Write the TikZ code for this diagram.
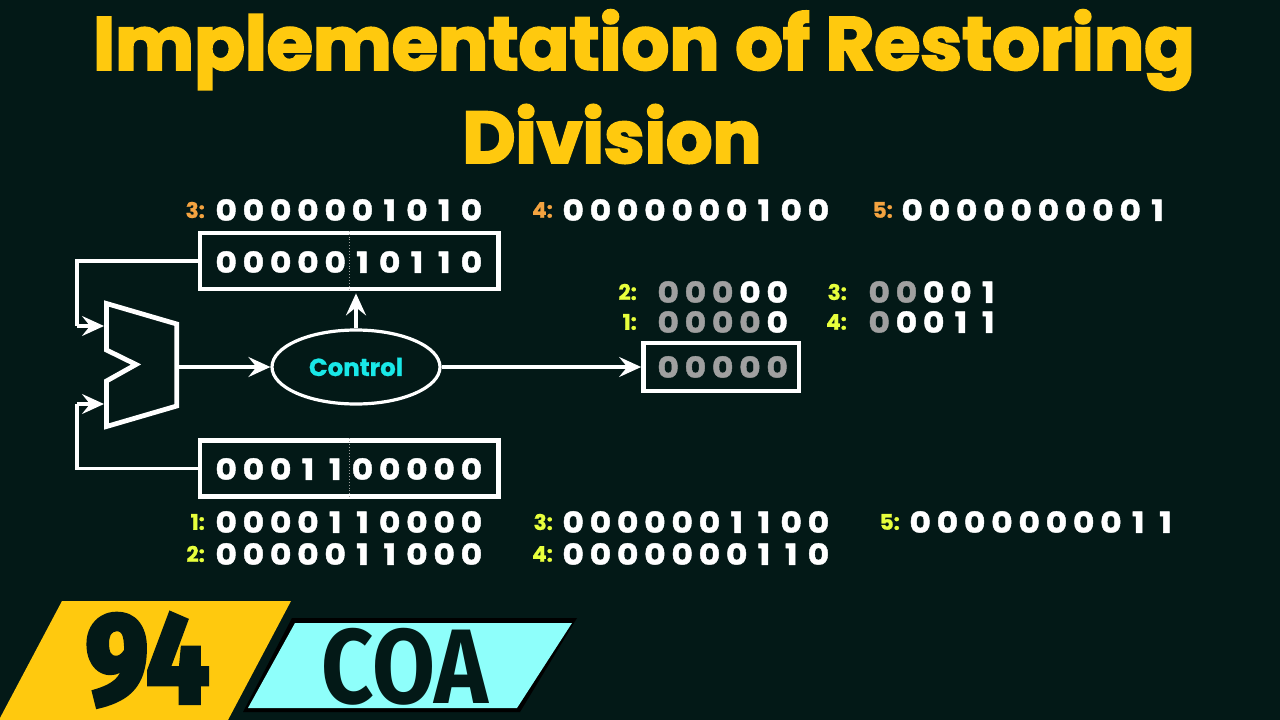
\documentclass[tikz,border=0pt]{standalone}
\usepackage{fontspec}
\setmainfont{Poppins}
\newfontfamily\titlefont[BoldFeatures={RawFeature={embolden=3}}]{Poppins}
\newfontfamily\digitfont[BoldFeatures={RawFeature={embolden=1.5},FakeStretch=1.14}]{Poppins}
\newfontfamily\labelfont[BoldFeatures={RawFeature={embolden=1}}]{Poppins}
\newfontfamily\numfont[BoldFeatures={RawFeature={embolden=4},FakeStretch=0.86}]{Fira Sans}
\newfontfamily\coafont[BoldFeatures={FakeStretch=0.86}]{Fira Sans}
\usetikzlibrary{arrows.meta,calc,shapes.geometric}
\definecolor{bgc}{RGB}{3,25,23}
\definecolor{gold}{RGB}{255,201,14}
\definecolor{aqua}{RGB}{142,255,251}
\definecolor{ctrl}{RGB}{25,232,232}
\definecolor{greybit}{RGB}{160,160,160}
\definecolor{orangel}{RGB}{244,163,64}
\definecolor{limel}{RGB}{232,255,60}
\newlength{\dw}\setlength{\dw}{27.25pt}
\def\bitsloop#1{\ifx#1\relax\else\makebox[\dw]{#1}\expandafter\bitsloop\fi}
\newcommand{\bits}[1]{\bitsloop#1\relax}
\newcommand{\gbits}[1]{{\color{greybit}\bitsloop#1\relax}}
\tikzset{
  x=1pt,y=-1pt,
  wire/.style={draw=white,line width=3.1pt,line join=miter},
  arrowed/.style={wire,-{Stealth[length=22pt,width=20pt,inset=8pt]}},
  reg/.style={draw=white,line width=4.6pt,fill=bgc,rectangle,inner sep=0pt},
  row/.style={anchor=west,inner sep=0pt,text=white,font=\digitfont\bfseries\fontsize{29}{29}\selectfont},
  lab/.style={anchor=east,inner sep=0pt,font=\labelfont\bfseries\fontsize{21.5}{22}\selectfont},
  ttl/.style={inner sep=0pt,text=gold,font=\titlefont\bfseries\fontsize{84}{84}\selectfont},
}
\begin{document}
\begin{tikzpicture}
\useasboundingbox (0,0) rectangle (1280,720);
\fill[bgc] (0,0) rectangle (1280,720);
% title
\node[ttl] (t1) at (644,50) {\resizebox{1102pt}{!}{Implementation of Restoring}};
\node[ttl] (t2) at (612,134) {\resizebox{299pt}{!}{Division}};
% registers
\node[reg,minimum width=298.5pt,minimum height=56pt] (top) at (349.2,261) {};
\node[reg,minimum width=298.5pt,minimum height=56pt] (bot) at (349.2,468.5) {};
\node[reg,minimum width=155.5pt,minimum height=48pt] (res) at (721.2,367) {};
\draw[greybit,line width=.9pt,dotted] (top.north) -- (top.south);
\draw[greybit,line width=.9pt,dotted] (bot.north) -- (bot.south);
% adder
\draw[draw=white,line width=4.8pt,line join=miter] (106.5,303.5) -- (176.7,324) -- (176.7,406) -- (106.5,426.5) -- (106.5,381) -- (136,364.5) -- (106.5,350) -- cycle;
\coordinate (inA) at (104,326);
\coordinate (inB) at (104,404);
\coordinate (addout) at (178.5,367);
\coordinate (leftA) at (77,326);
\coordinate (leftB) at (77,404);
% control
\node[draw=white,line width=3.2pt,ellipse,inner sep=0pt,minimum width=168pt,minimum height=74pt,text=ctrl,font=\labelfont\bfseries\fontsize{24.5}{25}\selectfont] (ctl) at (356,367) {Control};
% connectors
\draw[wire] (top.west) -| (leftA);
\draw[arrowed] (leftA) -- (inA);
\draw[wire] (bot.west) -| (leftB);
\draw[arrowed] (leftB) -- (inB);
\draw[arrowed] (addout) -- (ctl.west);
\draw[arrowed] (ctl.north) -- ($(ctl.north)+(0,-35)$);
\draw[arrowed] (ctl.east) -- (res.west);
% register contents
\node[row] (topbits) at (212.4,262) {\bits{0000010110}};
\node[row] (botbits) at (212.4,469) {\bits{0001100000}};
\node[row] (resbits) at (654.4,367) {\gbits{00000}};
% quotient rows
\node[lab,text=orangel] (a3) at (205,210) {3:};
\node[row] (a3b) at (212.4,210) {\bits{0000001010}};
\node[lab,text=orangel] (a4) at (553,210) {4:};
\node[row] (a4b) at (559.4,210) {\bits{0000000100}};
\node[lab,text=orangel] (a5) at (893,210) {5:};
\node[row] (a5b) at (898.4,210) {\bits{0000000001}};
% partial results
\node[lab,text=limel] (q2) at (637,292) {2:};
\node[row] (q2b) at (654.4,292) {\gbits{000}\bits{00}};
\node[lab,text=limel] (q1) at (637,322) {1:};
\node[row] (q1b) at (654.4,322) {\gbits{0000}\bits{0}};
\node[lab,text=limel] (q3) at (847,292) {3:};
\node[row] (q3b) at (865.4,292) {\gbits{00}\bits{001}};
\node[lab,text=limel] (q4) at (847,322) {4:};
\node[row] (q4b) at (865.4,322) {\gbits{0}\bits{0011}};
% divisor rows
\node[lab,text=limel] (b1) at (205,522) {1:};
\node[row] (b1b) at (212.4,522) {\bits{0000110000}};
\node[lab,text=limel] (b2) at (205,554) {2:};
\node[row] (b2b) at (212.4,554) {\bits{0000011000}};
\node[lab,text=limel] (b3) at (553,522) {3:};
\node[row] (b3b) at (559.4,522) {\bits{0000001100}};
\node[lab,text=limel] (b4) at (553,554) {4:};
\node[row] (b4b) at (559.4,554) {\bits{0000000110}};
\node[lab,text=limel] (b5) at (900,522) {5:};
\node[row] (b5b) at (906.4,522) {\bits{0000000011}};
% badges
\fill[gold] (62,601) -- (291,601) -- (228,720) -- (0,720) -- (0,718) -- cycle;
\fill[black] (292,618) -- (577,618) -- (520,712) -- (243,712) -- cycle;
\fill[aqua] (295,623) -- (572,623) -- (517,708) -- (248,708) -- cycle;
\node[inner sep=0pt,text=bgc,font=\numfont\bfseries\fontsize{128}{128}\selectfont] (num) at (147.5,660) {94};
\node[inner sep=0pt,text=bgc,font=\coafont\bfseries\fontsize{106}{106}\selectfont] (coa) at (405,666.5) {COA};
\end{tikzpicture}
\end{document}
